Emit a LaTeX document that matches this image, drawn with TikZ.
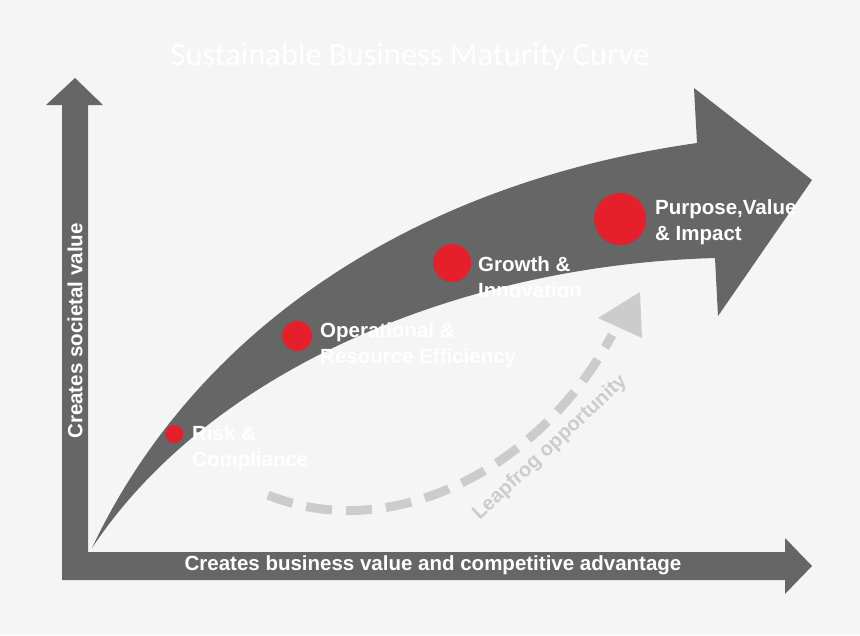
\documentclass[tikz,border=0pt]{standalone}
\usepackage{fontspec}
\setmainfont{Liberation Sans}
\newfontfamily\titlefont{Carlito}
\usetikzlibrary{arrows.meta}
\definecolor{bg}{HTML}{F5F5F5}
\definecolor{axgray}{HTML}{666666}
\definecolor{dotred}{HTML}{E5202A}
\definecolor{leap}{HTML}{CCCCCC}
\tikzset{
  dot/.style={fill=dotred,draw=none,circle,inner sep=0pt},
  lbl/.style={text=white,font=\bfseries\fontsize{20.5}{26}\selectfont,align=left,anchor=north west,inner sep=0pt},
}
\begin{document}
\begin{tikzpicture}[x=1pt,y=-1pt]
\fill[bg] (0,0) rectangle (860,635);
\useasboundingbox (0,0) rectangle (860,635);
\node (title) at (410,57) {\titlefont\fontsize{32.5}{36}\selectfont\color{white}Sustainable Business Maturity Curve};
% axes
\fill[axgray] (62,580) -- (62,105) -- (46,105) -- (75,78) -- (103,105) -- (88,105) -- (88,552) -- (785,552) -- (785,538) -- (812,566) -- (785,594) -- (785,580) -- cycle;
\node[rotate=90,text=white,font=\bfseries\fontsize{20.5}{24}\selectfont] (yl) at (75,331) {Creates societal value};
\node[text=white,font=\bfseries\fontsize{20.5}{24}\selectfont] (xl) at (433,565) {Creates business value and competitive advantage};
% big arrow
\fill[axgray] (92,548) .. controls (190,340) and (400,185) .. (697,143) -- (694,88) -- (812,180) -- (718,316) -- (715,258) .. controls (460,265) and (210,370) .. (92,548) -- cycle;
% leapfrog
\draw[leap,line width=9pt,dash pattern=on 26pt off 14pt] (268,495) .. controls (390,545) and (540,470) .. (612,335);
\fill[leap] (598,318) -- (640,292) -- (642,338) -- cycle;
\node[rotate=43,text=leap,font=\bfseries\fontsize{20}{24}\selectfont] (lf) at (550,448) {Leapfrog opportunity};
% dots
\node[dot,minimum size=18pt] (d1) at (174,434) {};
\node[dot,minimum size=30pt] (d2) at (297,336) {};
\node[dot,minimum size=38pt] (d3) at (452,263) {};
\node[dot,minimum size=52pt] (d4) at (620,219) {};
\node[lbl] (l1) at (192,425) {Risk \&\\Compliance};
\node[lbl] (l2) at (320,322) {Operational \&\\Resource Efficiency};
\node[lbl] (l3) at (478,256) {Growth \&\\Innovation};
\node[lbl] (l4) at (655,199) {Purpose,Value\\\& Impact};
\end{tikzpicture}
\end{document}
